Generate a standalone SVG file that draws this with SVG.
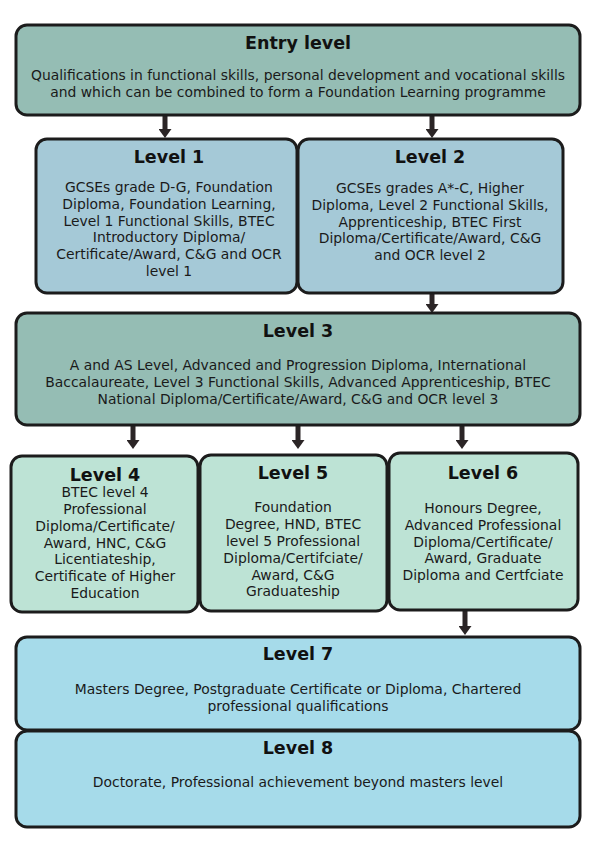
<svg xmlns="http://www.w3.org/2000/svg" width="595" height="841" viewBox="0 0 595 841">
<style>
.box{stroke:#1c1c1c;stroke-width:3}
.g1{fill:#95bdb4}
.b1{fill:#a5c9d7}
.m1{fill:#bde3d5}
.c1{fill:#a6dbea}
.t{font-family:"DejaVu Sans","Verdana",sans-serif;font-weight:bold;font-size:17.5px;fill:#111;text-anchor:middle}
.x{font-family:"DejaVu Sans","Verdana",sans-serif;font-size:13.9px;fill:#1a1a1a;text-anchor:middle}
.arr{stroke:#2b2526;stroke-width:5;fill:none;marker-end:url(#ah)}
</style>
<defs>
<marker id="ah" markerUnits="userSpaceOnUse" viewBox="0 0 13 9" markerWidth="13" markerHeight="9" refX="6.5" refY="0" orient="0">
<path d="M0,0 L13,0 L6.5,9 Z" fill="#2b2526"/>
</marker>
</defs>
<rect width="595" height="841" fill="#fff"/>

<g id="connectors">
<path class="arr" d="M165,115 V129"/>
<path class="arr" d="M432,115 V129"/>
<path class="arr" d="M432,293 V304"/>
<path class="arr" d="M133,425 V440"/>
<path class="arr" d="M298,425 V440"/>
<path class="arr" d="M462,425 V440"/>
<path class="arr" d="M465,610 V626"/>
</g>

<g id="entry">
<rect class="box g1" x="16" y="25" width="564" height="90" rx="11"/>
<text class="t" x="298" y="49">Entry level</text>
<text class="x" x="298" y="80">Qualifications in functional skills, personal development and vocational skills</text>
<text class="x" x="298" y="97">and which can be combined to form a Foundation Learning programme</text>
</g>

<g id="level1">
<rect class="box b1" x="36" y="139" width="261" height="154" rx="11"/>
<text class="t" x="169" y="163">Level 1</text>
<text class="x" x="169" y="192">GCSEs grade D-G, Foundation</text>
<text class="x" x="169" y="209">Diploma, Foundation Learning,</text>
<text class="x" x="169" y="226">Level 1 Functional Skills, BTEC</text>
<text class="x" x="169" y="242">Introductory Diploma/</text>
<text class="x" x="169" y="259">Certificate/Award, C&amp;G and OCR</text>
<text class="x" x="169" y="276">level 1</text>
</g>

<g id="level2">
<rect class="box b1" x="298" y="139" width="265" height="154" rx="11"/>
<text class="t" x="430" y="163">Level 2</text>
<text class="x" x="430" y="193">GCSEs grades A*-C, Higher</text>
<text class="x" x="430" y="210">Diploma, Level 2 Functional Skills,</text>
<text class="x" x="430" y="227">Apprenticeship, BTEC First</text>
<text class="x" x="430" y="243">Diploma/Certificate/Award, C&amp;G</text>
<text class="x" x="430" y="260">and OCR level 2</text>
</g>

<g id="level3">
<rect class="box g1" x="16" y="313" width="564" height="112" rx="11"/>
<text class="t" x="298" y="337">Level 3</text>
<text class="x" x="298" y="370">A and AS Level, Advanced and Progression Diploma, International</text>
<text class="x" x="298" y="387">Baccalaureate, Level 3 Functional Skills, Advanced Apprenticeship, BTEC</text>
<text class="x" x="298" y="404">National Diploma/Certificate/Award, C&amp;G and OCR level 3</text>
</g>

<g id="level4">
<rect class="box m1" x="11" y="456" width="187" height="156" rx="11"/>
<text class="t" x="105" y="481">Level 4</text>
<text class="x" x="105" y="497">BTEC level 4</text>
<text class="x" x="105" y="514">Professional</text>
<text class="x" x="105" y="531">Diploma/Certificate/</text>
<text class="x" x="105" y="548">Award, HNC, C&amp;G</text>
<text class="x" x="105" y="564">Licentiateship,</text>
<text class="x" x="105" y="581">Certificate of Higher</text>
<text class="x" x="105" y="598">Education</text>
</g>

<g id="level5">
<rect class="box m1" x="200" y="455" width="187" height="156" rx="11"/>
<text class="t" x="293" y="479">Level 5</text>
<text class="x" x="293" y="512">Foundation</text>
<text class="x" x="293" y="529">Degree, HND, BTEC</text>
<text class="x" x="293" y="546">level 5 Professional</text>
<text class="x" x="293" y="563">Diploma/Certifciate/</text>
<text class="x" x="293" y="580">Award, C&amp;G</text>
<text class="x" x="293" y="596">Graduateship</text>
</g>

<g id="level6">
<rect class="box m1" x="389" y="453" width="189" height="157" rx="11"/>
<text class="t" x="483" y="479">Level 6</text>
<text class="x" x="483" y="513">Honours Degree,</text>
<text class="x" x="483" y="530">Advanced Professional</text>
<text class="x" x="483" y="547">Diploma/Certificate/</text>
<text class="x" x="483" y="563">Award, Graduate</text>
<text class="x" x="483" y="580">Diploma and Certfciate</text>
</g>

<g id="level7">
<rect class="box c1" x="16" y="637" width="564" height="93" rx="11"/>
<text class="t" x="298" y="660">Level 7</text>
<text class="x" x="298" y="694">Masters Degree, Postgraduate Certificate or Diploma, Chartered</text>
<text class="x" x="298" y="711">professional qualifications</text>
</g>

<g id="level8">
<rect class="box c1" x="16" y="731" width="564" height="96" rx="11"/>
<text class="t" x="298" y="754">Level 8</text>
<text class="x" x="298" y="787">Doctorate, Professional achievement beyond masters level</text>
</g>
</svg>
